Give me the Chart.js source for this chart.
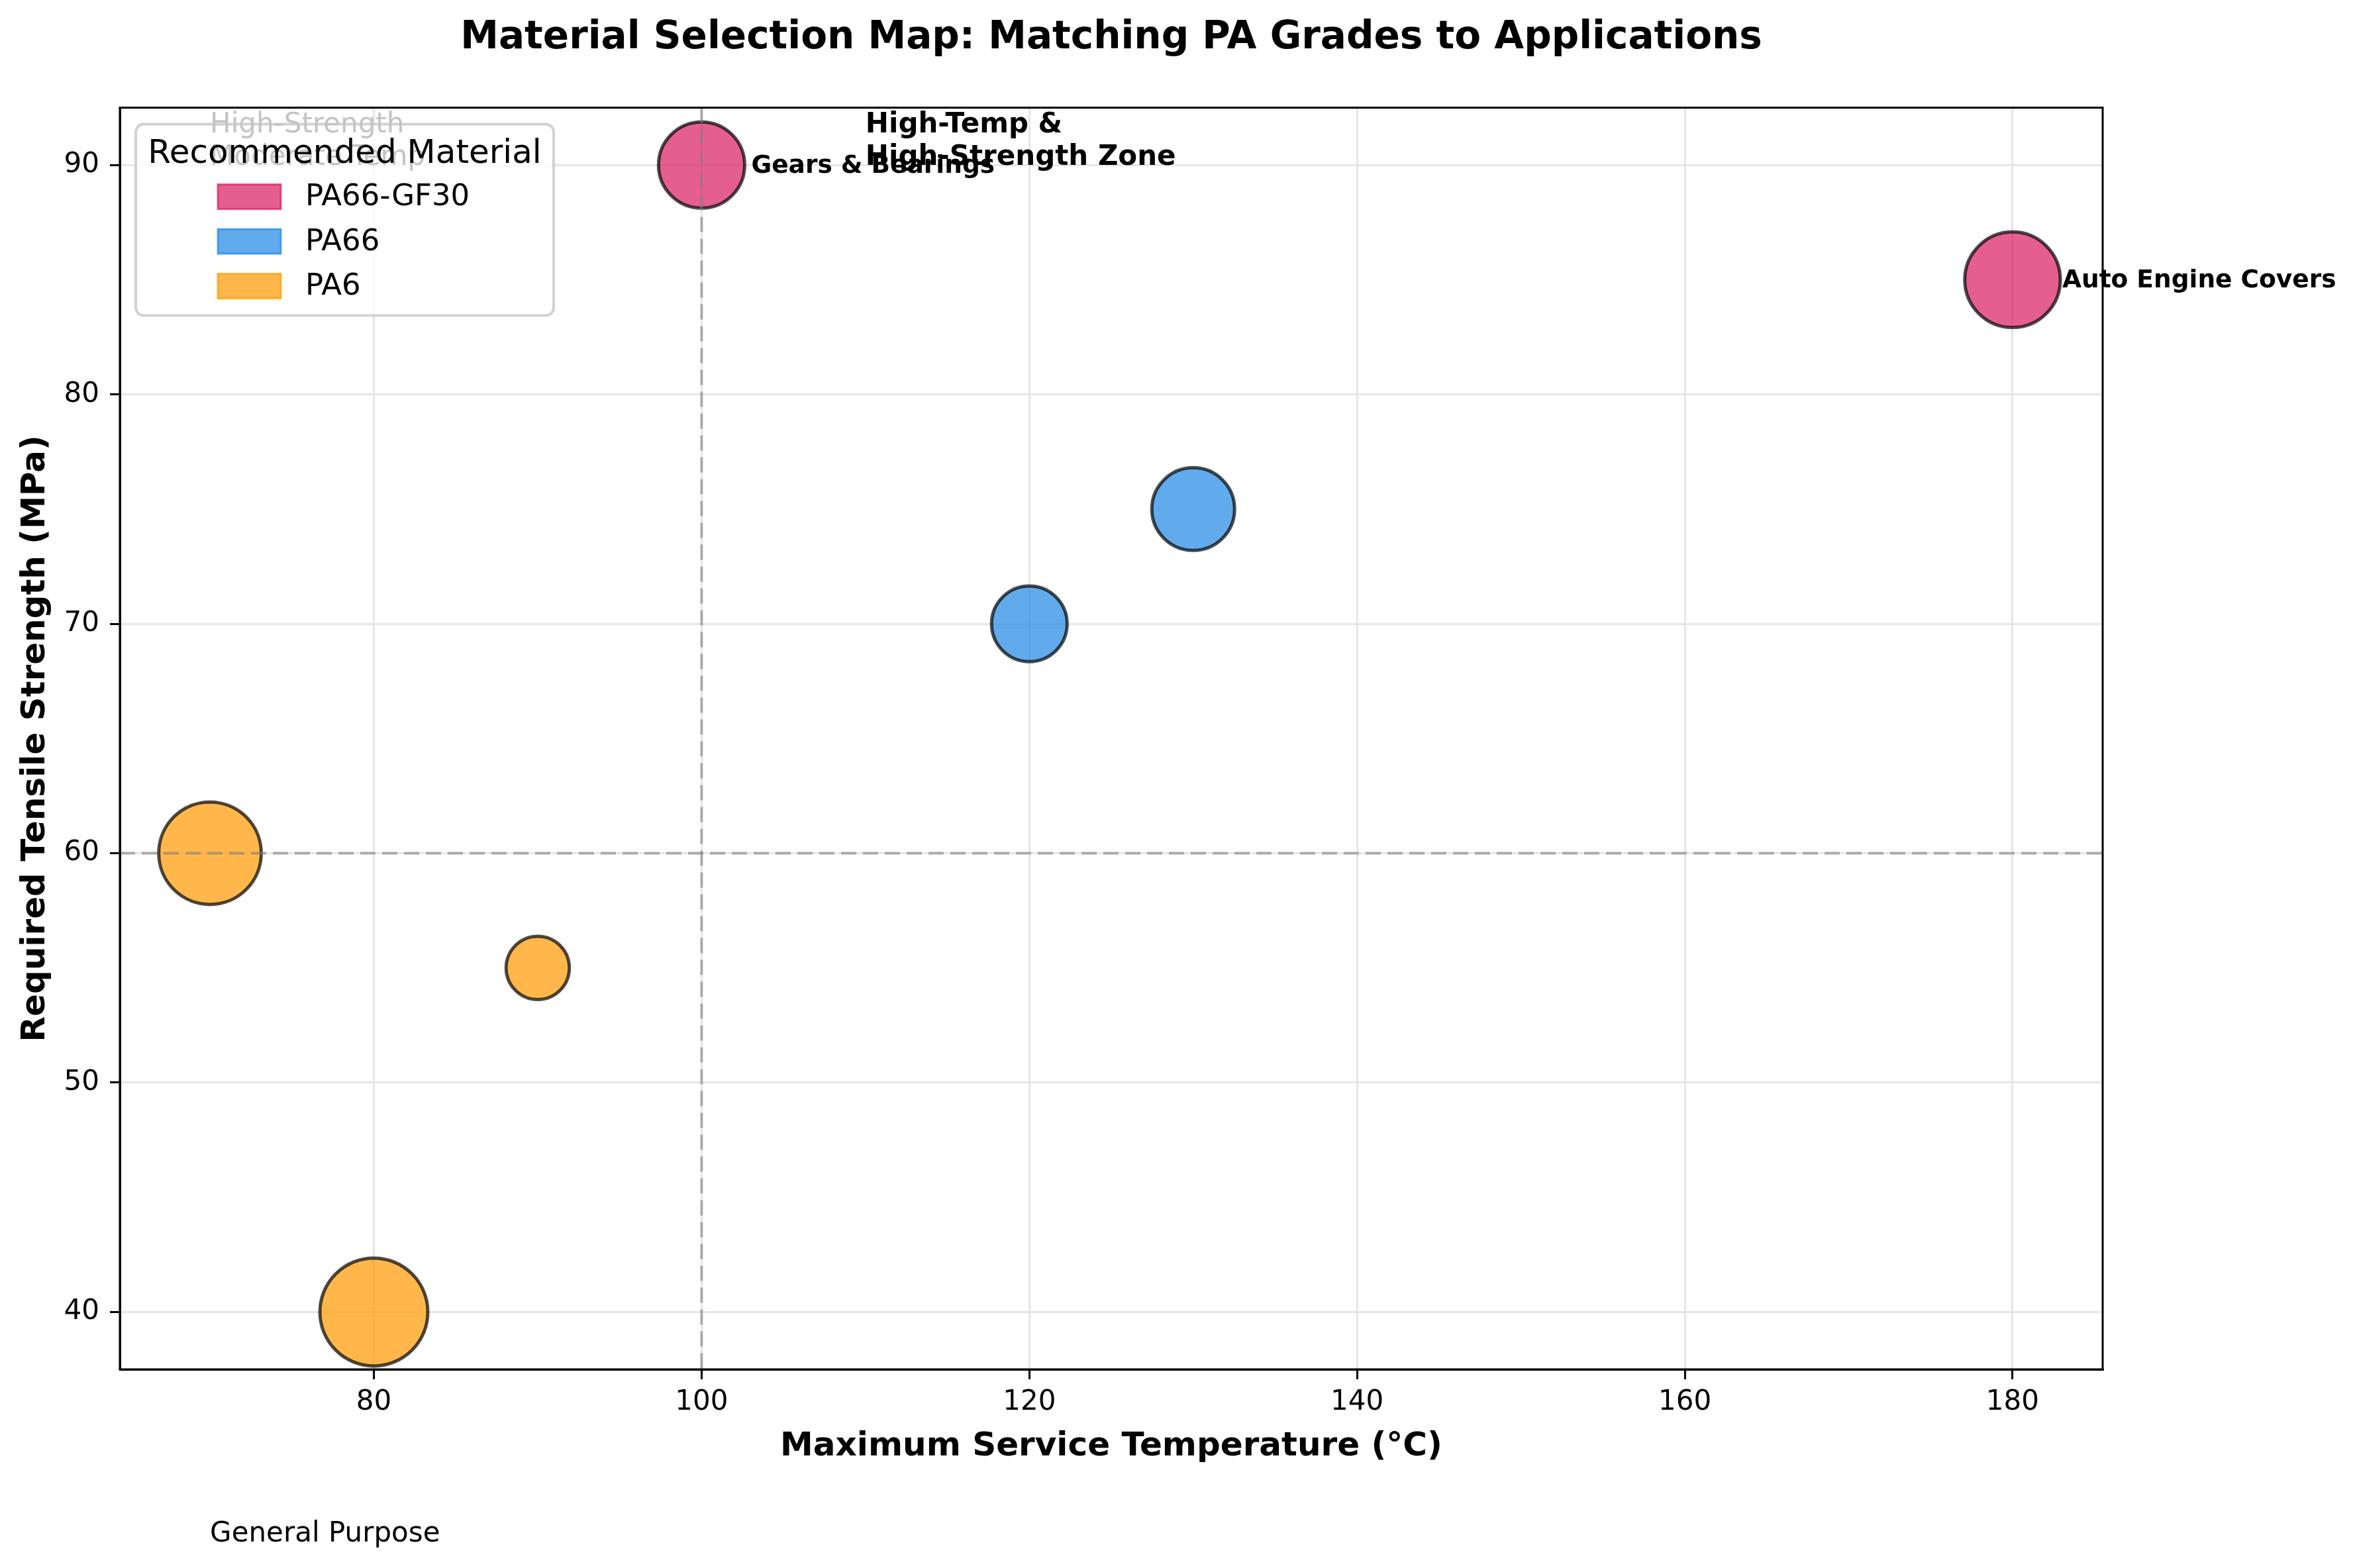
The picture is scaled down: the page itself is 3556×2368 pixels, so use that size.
<!DOCTYPE html>
<html>
<head>
<meta charset="utf-8">
<script src="https://cdn.jsdelivr.net/npm/chart.js@4.4.1/dist/chart.umd.min.js"></script>
<style>
    html, body { margin: 0; padding: 0; background: #ffffff; }
    canvas { display: block; }
</style>
</head>
<body>
<canvas id="bubble-chart" width="3556" height="2368"></canvas>
<script>
// data
const materials = ['PA66-GF30', 'PA66', 'PA6'];
const pointMaterial = ['PA66-GF30', 'PA66-GF30', 'PA66', 'PA66', 'PA6', 'PA6', 'PA6'];
const maxTemp = [100, 180, 120, 130, 70, 90, 80];
const tensileStrength = [90, 85, 70, 75, 60, 55, 40];
const volume = [325, 400, 250, 300, 460, 175, 510];
const pointLabels = ['Gears & Bearings', 'Auto Engine Covers', '', '', '', '', ''];
const xTicks = [80, 100, 120, 140, 160, 180];
const yTicks = [40, 50, 60, 70, 80, 90];
const tempThreshold = 100;
const strengthThreshold = 60;

const baseColors = {
    'PA66-GF30': [216, 27, 96],
    'PA66': [30, 136, 229],
    'PA6': [255, 152, 0]
};
const rgba = (c, a) => `rgba(${c[0]}, ${c[1]}, ${c[2]}, ${a})`;
const FONT = "'DejaVu Sans', sans-serif";

// matplotlib-like marker area: s = 3 * volume (pt^2) at 300 dpi
const radiusFor = v => Math.sqrt(3 * v) / 2 * 300 / 72;

const datasets = materials.map(m => {
    const pts = [];
    pointMaterial.forEach((pm, i) => {
        if (pm === m) {
            pts.push({ x: maxTemp[i], y: tensileStrength[i], r: radiusFor(volume[i]), label: pointLabels[i] });
        }
    });
    return {
        label: m,
        data: pts,
        backgroundColor: rgba(baseColors[m], 0.7),
        borderColor: 'rgba(0, 0, 0, 0.7)',
        borderWidth: 5,
        hoverBorderWidth: 5
    };
});

const overlayPlugin = {
    id: 'overlay',
    afterDatasetsDraw(chart) {
        const { ctx, chartArea: a, scales: { x, y } } = chart;
        ctx.save();

        // threshold lines
        ctx.strokeStyle = 'rgba(128, 128, 128, 0.6)';
        ctx.lineWidth = 4;
        ctx.setLineDash([23, 10]);
        const px = x.getPixelForValue(tempThreshold);
        ctx.beginPath(); ctx.moveTo(px, a.top); ctx.lineTo(px, a.bottom); ctx.stroke();
        const py = y.getPixelForValue(strengthThreshold);
        ctx.beginPath(); ctx.moveTo(a.left, py); ctx.lineTo(a.right, py); ctx.stroke();
        ctx.setLineDash([]);

        // top and right spines
        ctx.strokeStyle = '#000000';
        ctx.lineWidth = 3;
        ctx.strokeRect(a.left, a.top, a.right - a.left, a.bottom - a.top);

        // point labels
        ctx.fillStyle = '#000000';
        ctx.font = `bold 37.5px ${FONT}`;
        ctx.textAlign = 'left';
        ctx.textBaseline = 'middle';
        chart.data.datasets.forEach(ds => {
            ds.data.forEach(p => {
                if (p.label) {
                    ctx.fillText(p.label, x.getPixelForValue(p.x) + 75, y.getPixelForValue(p.y) + 2);
                }
            });
        });

        // zone annotation
        ctx.font = `bold 42px ${FONT}`;
        ctx.textBaseline = 'alphabetic';
        const zx = x.getPixelForValue(110);
        const zy = y.getPixelForValue(90);
        ctx.fillText('High-Temp &', zx, zy - 49);
        ctx.fillText('High-Strength Zone', zx, zy);
        ctx.restore();
    },
    afterDraw(chart) {
        const { ctx, chartArea: a, scales: { x, y } } = chart;
        ctx.save();

        // legend frame
        const lx = a.left + 24, ly = a.top + 25, lw = 631, lh = 289;
        ctx.beginPath();
        ctx.roundRect(lx, ly, lw, lh, 12);
        ctx.fillStyle = 'rgba(255, 255, 255, 0.8)';
        ctx.fill();
        ctx.strokeStyle = 'rgba(204, 204, 204, 0.9)';
        ctx.lineWidth = 4;
        ctx.stroke();

        // quadrant hint (sits under the legend text)
        ctx.fillStyle = '#c4c4c4';
        ctx.font = `42px ${FONT}`;
        ctx.textAlign = 'left';
        ctx.textBaseline = 'alphabetic';
        const qx = x.getPixelForValue(70);
        const qy = y.getPixelForValue(90);
        ctx.fillText('High-Strength', qx, qy - 49);
        ctx.fillText('Moderate Temp', qx, qy);

        // legend content
        ctx.fillStyle = '#000000';
        ctx.font = `50px ${FONT}`;
        ctx.textAlign = 'center';
        ctx.fillText('Recommended Material', lx + lw / 2, ly + 58);
        ctx.font = `45px ${FONT}`;
        ctx.textAlign = 'left';
        ctx.textBaseline = 'middle';
        materials.forEach((m, i) => {
            const cy = ly + 109 + i * 67.5;
            ctx.fillStyle = rgba(baseColors[m], 0.7);
            ctx.fillRect(lx + 124, cy - 18, 95, 37);
            ctx.strokeStyle = rgba(baseColors[m], 0.7);
            ctx.lineWidth = 3;
            ctx.strokeRect(lx + 124, cy - 18, 95, 37);
            ctx.fillStyle = '#000000';
            ctx.fillText(m, lx + 256, cy + 2);
        });

        // lower hint, below the axis
        ctx.textBaseline = 'alphabetic';
        ctx.font = `42px ${FONT}`;
        ctx.fillText('General Purpose', x.getPixelForValue(70), y.getPixelForValue(30));
        ctx.restore();
    }
};

const ctx = document.getElementById('bubble-chart').getContext('2d');
const bubbleChart = new Chart(ctx, {
    type: 'bubble',
    data: { datasets: datasets },
    options: {
        responsive: false,
        animation: false,
        devicePixelRatio: 1,
        layout: {
            padding: { left: 0, top: 0, right: 381, bottom: 0 }
        },
        plugins: {
            legend: { display: false },
            tooltip: { enabled: false },
            title: {
                display: true,
                fullSize: false,
                text: 'Material Selection Map: Matching PA Grades to Applications',
                color: '#000000',
                font: { family: FONT, size: 58, weight: 'bold', lineHeight: 1.2 },
                padding: { top: 23, bottom: 70 }
            }
        },
        scales: {
            x: {
                type: 'linear',
                min: 64.5,
                max: 185.5,
                afterBuildTicks: scale => { scale.ticks = xTicks.map(v => ({ value: v })); },
                afterFit: scale => { scale.height = 300; },
                ticks: {
                    color: '#000000',
                    padding: 10,
                    font: { family: FONT, size: 42 }
                },
                grid: {
                    color: '#e6e6e6',
                    lineWidth: 3,
                    tickColor: '#000000',
                    tickWidth: 3,
                    tickLength: 15
                },
                border: { color: '#000000', width: 3 },
                title: {
                    display: true,
                    text: 'Maximum Service Temperature (°C)',
                    color: '#000000',
                    font: { family: FONT, size: 50, weight: 'bold', lineHeight: 1.2 },
                    padding: { top: 0, bottom: 153 }
                }
            },
            y: {
                type: 'linear',
                min: 37.5,
                max: 92.5,
                afterBuildTicks: scale => { scale.ticks = yTicks.map(v => ({ value: v })); },
                afterFit: scale => { scale.width = 181; },
                ticks: {
                    color: '#000000',
                    padding: 16,
                    font: { family: FONT, size: 42 }
                },
                grid: {
                    color: '#e6e6e6',
                    lineWidth: 3,
                    tickColor: '#000000',
                    tickWidth: 3,
                    tickLength: 15
                },
                border: { color: '#000000', width: 3 },
                title: {
                    display: true,
                    text: 'Required Tensile Strength (MPa)',
                    color: '#000000',
                    font: { family: FONT, size: 50, weight: 'bold', lineHeight: 1.2 },
                    padding: { top: 24, bottom: 0 }
                }
            }
        }
    },
    plugins: [overlayPlugin]
});
</script>
</body>
</html>
